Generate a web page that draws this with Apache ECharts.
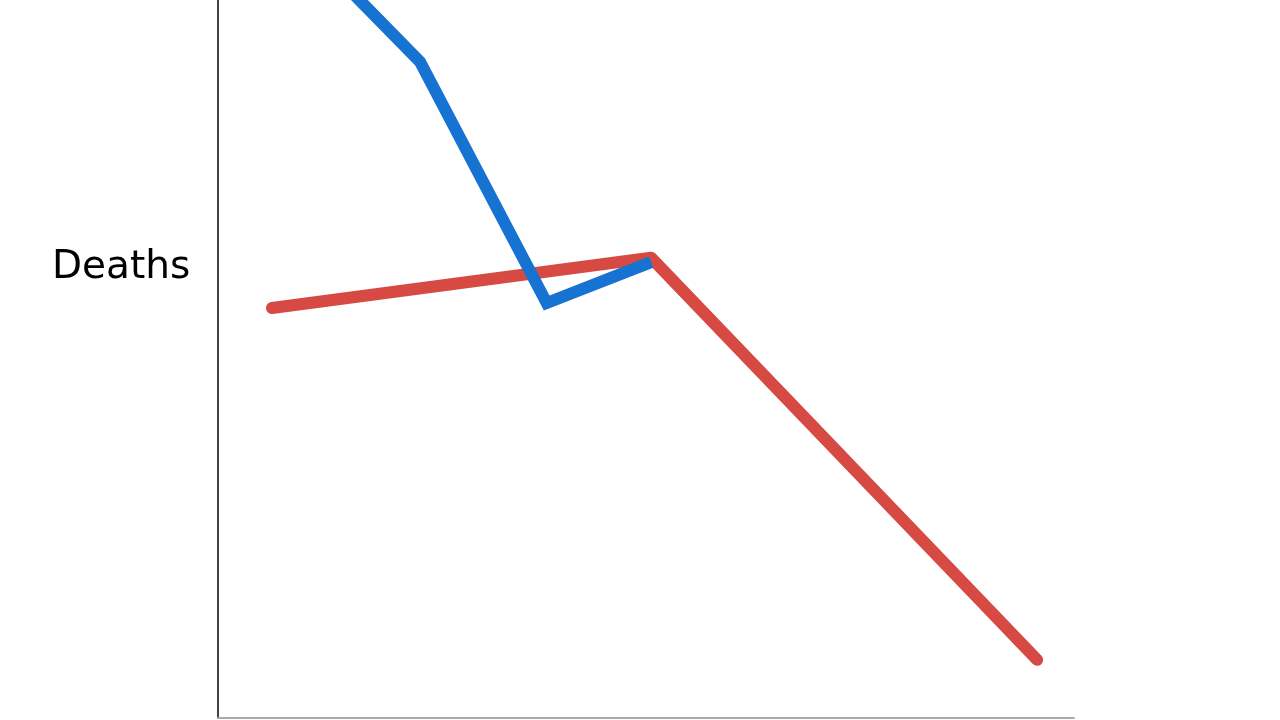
<!DOCTYPE html>
<html>
<head>
<meta charset="utf-8">
<script src="https://cdn.jsdelivr.net/npm/echarts@6/dist/echarts.min.js"></script>
<style>
html,body{margin:0;padding:0;background:#fff;}
#main{width:1280px;height:720px;}
</style>
</head>
<body>
<div id="main"></div>
<script>
// points, x and y on a 0-100 scale
var blueX = [9.6, 23.6, 38.4, 50.6];
var blueY = [108.4, 91.4, 57.8, 63.5];
var redX = [6.3, 50.6, 95.7];
var redY = [57.1, 64.1, 8.1];
var yLabel = 'Deaths';

function pairs(xs, ys) {
    var out = [];
    for (var i = 0; i < xs.length; i++) {
        out.push([xs[i], ys[i]]);
    }
    return out;
}

var myChart = echarts.init(document.getElementById('main'));
myChart.setOption({
    animation: false,
    grid: {left: 218, right: 206, top: 0, bottom: 2},
    xAxis: {
        type: 'value', min: 0, max: 100,
        axisLine: {show: true, lineStyle: {color: '#aaaaaa', width: 2}},
        axisTick: {show: false}, axisLabel: {show: false}, splitLine: {show: false}
    },
    yAxis: {
        type: 'value', min: 0, max: 100,
        axisLine: {show: true, lineStyle: {color: '#444444', width: 2}},
        axisTick: {show: false}, axisLabel: {show: false}, splitLine: {show: false}
    },
    graphic: [{
        type: 'text', left: 52, top: 248,
        style: {text: yLabel, font: '39px "DejaVu Sans"', fill: '#000'}
    }],
    series: [{
        type: 'line', data: pairs(redX, redY), symbol: 'none', clip: true,
        lineStyle: {color: '#d64a43', width: 12, cap: 'round', join: 'round'}
    }, {
        type: 'line', data: pairs(blueX, blueY), symbol: 'none', clip: true,
        lineStyle: {color: '#1673d1', width: 12, join: 'miter'}
    }]
});
</script>
</body>
</html>
